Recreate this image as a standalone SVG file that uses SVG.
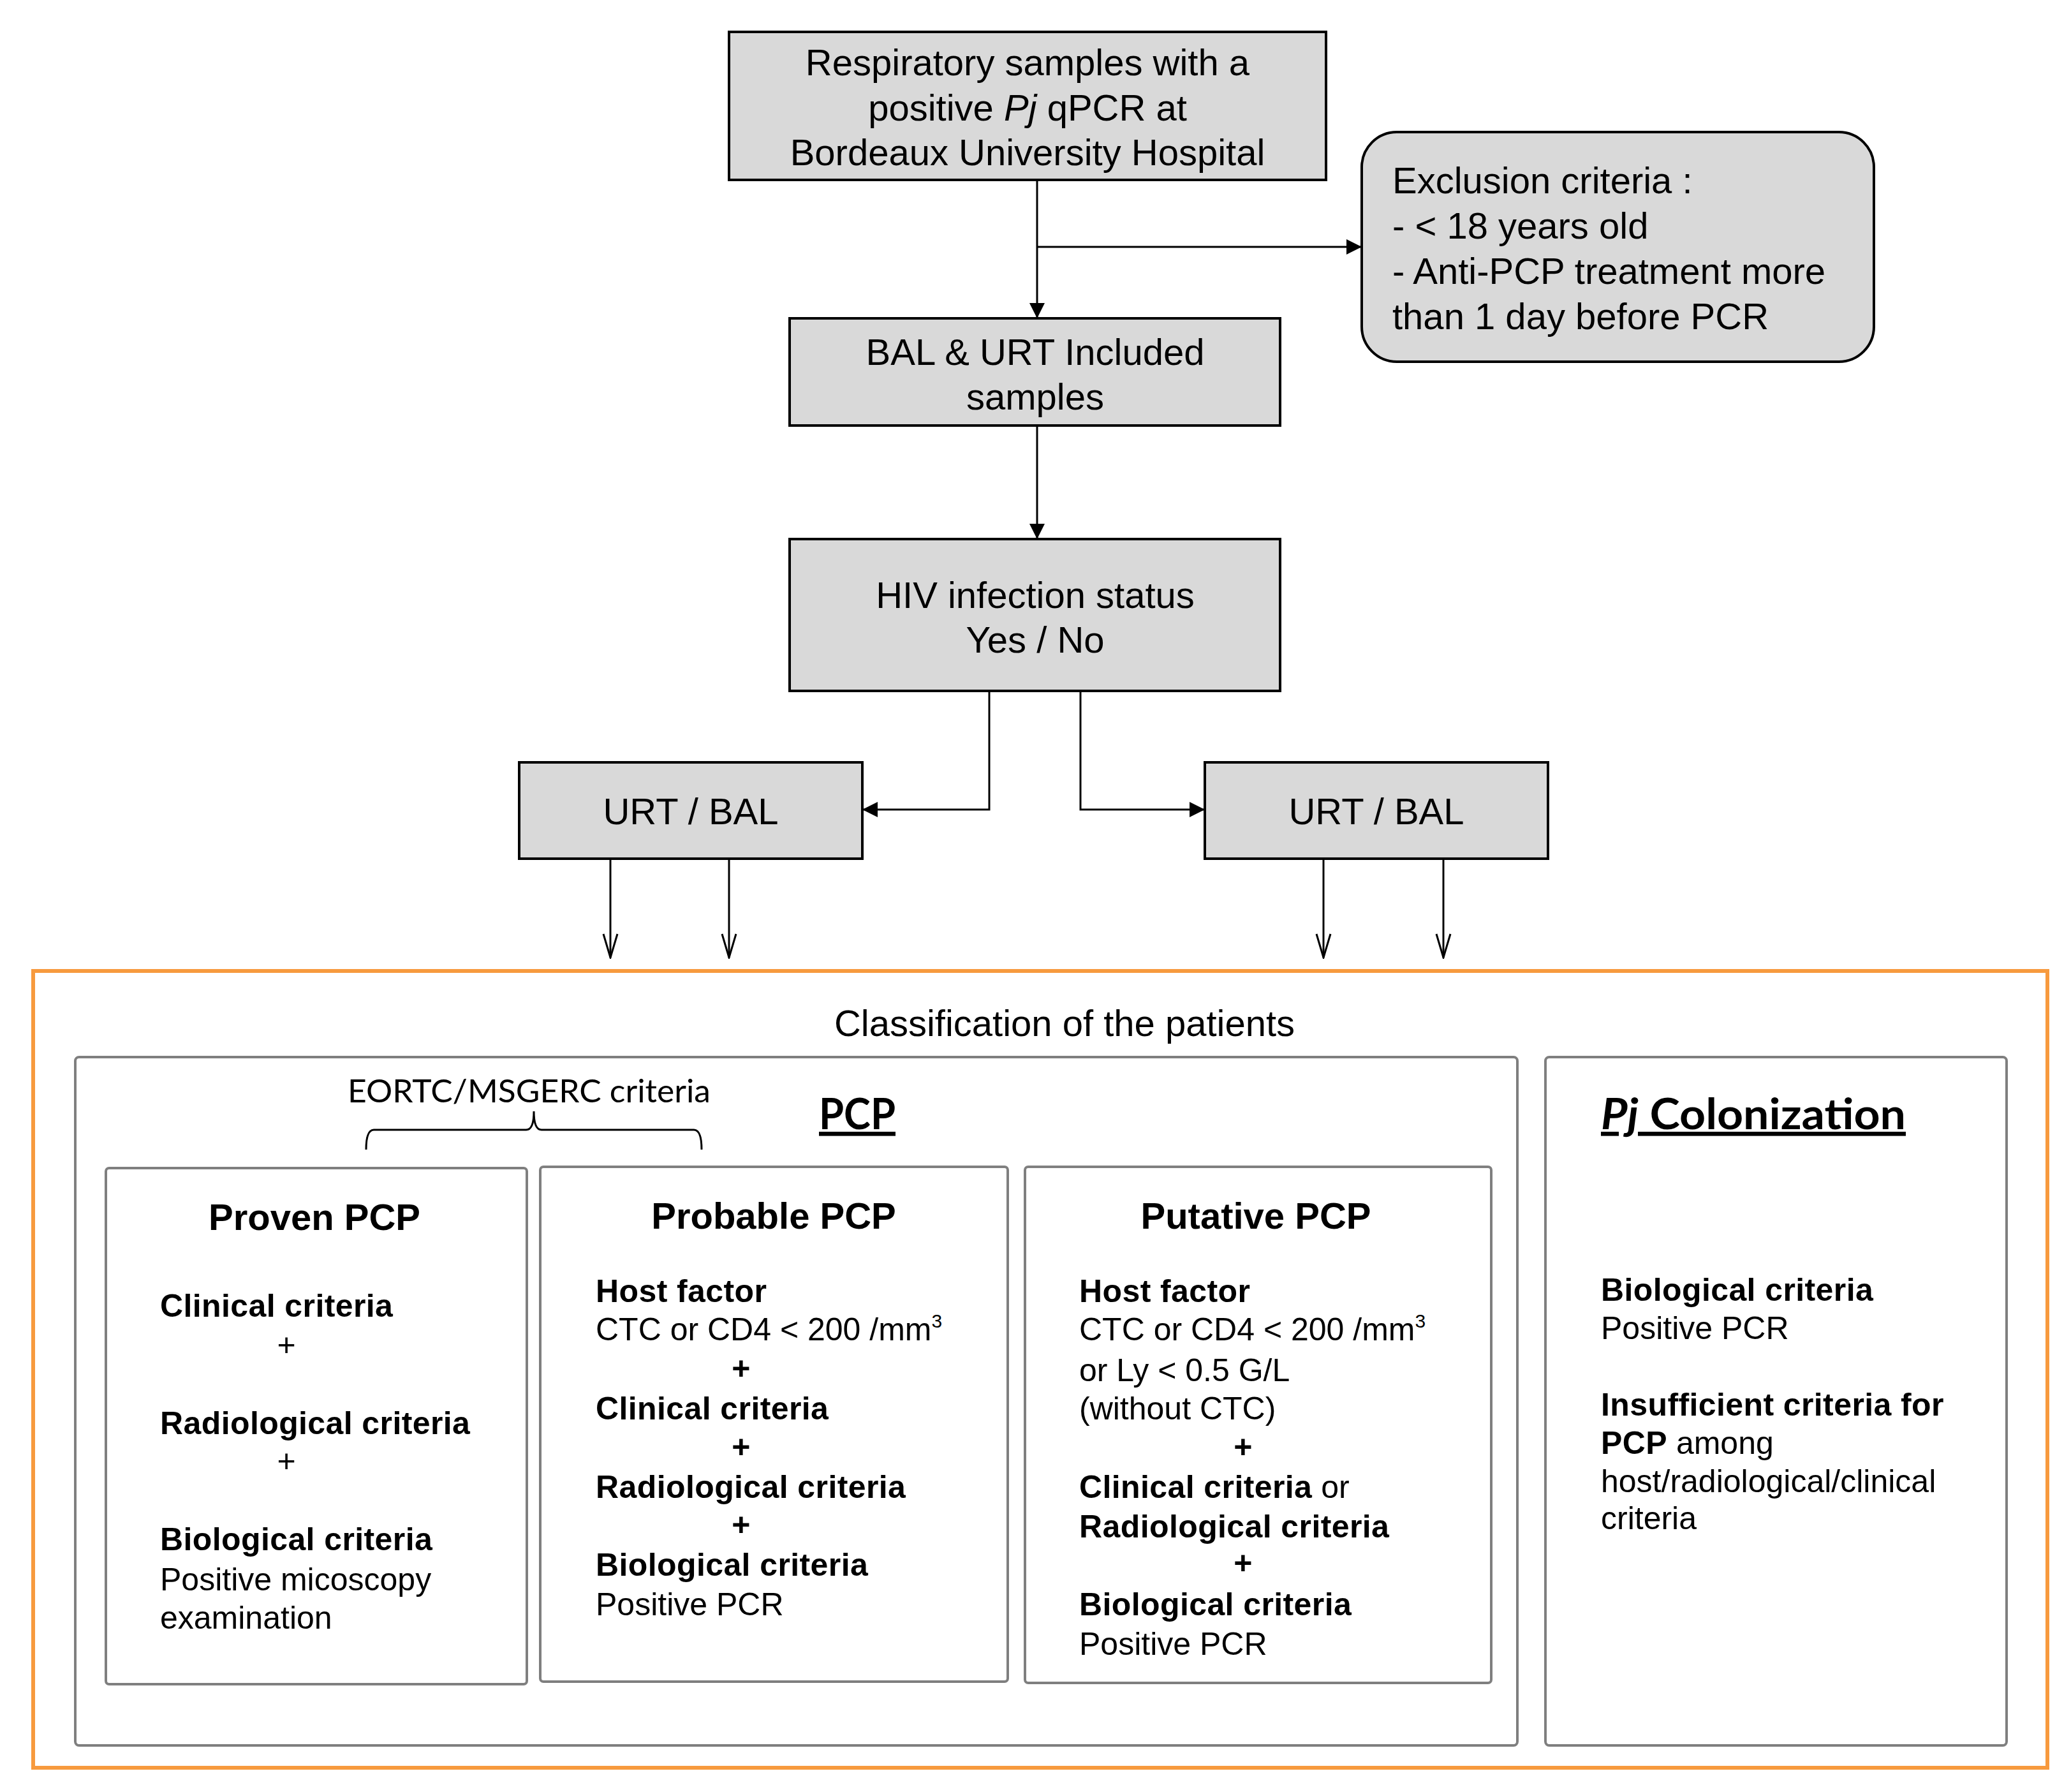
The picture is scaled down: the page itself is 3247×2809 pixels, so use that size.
<svg xmlns="http://www.w3.org/2000/svg" width="3247" height="2809" viewBox="0 0 3247 2809">
<defs>
<style>
.box{fill:#d9d9d9;stroke:#000;stroke-width:4}
.inner{fill:#fff;stroke:#7f7f7f;stroke-width:4}
.t{font-family:"Liberation Sans",Arial,sans-serif;font-size:58px;fill:#000}
.c{text-anchor:middle}
.b{font-family:"Liberation Sans",Arial,sans-serif;font-size:50px;fill:#000}
.bold{font-weight:bold;letter-spacing:0.4px}
.ttl{font-family:"Liberation Sans",Arial,sans-serif;font-size:58px;font-weight:bold;text-anchor:middle;fill:#000}
.cal{font-family:Lato,"Open Sans",sans-serif;fill:#000}
.conn{fill:none;stroke:#000;stroke-width:3}
</style>
<marker id="arr" viewBox="0 0 20 20" refX="20" refY="10" markerWidth="24" markerHeight="24" markerUnits="userSpaceOnUse" orient="auto">
<path d="M0,0 L20,10 L0,20 z" fill="#000"/>
</marker>
<marker id="open" viewBox="0 0 40 26" refX="38" refY="13" markerWidth="40" markerHeight="26" markerUnits="userSpaceOnUse" orient="auto">
<path d="M1,2 L38,13 L1,24" fill="none" stroke="#000" stroke-width="3"/>
</marker>
</defs>
<rect width="3247" height="2809" fill="#fff"/>

<g id="connectors">
<line class="conn" x1="1626" y1="282" x2="1626" y2="499" marker-end="url(#arr)"/>
<line class="conn" x1="1626" y1="387" x2="2135" y2="387" marker-end="url(#arr)"/>
<line class="conn" x1="1626" y1="667" x2="1626" y2="845" marker-end="url(#arr)"/>
<path class="conn" d="M1551,1083 V1269 H1352" marker-end="url(#arr)"/>
<path class="conn" d="M1694,1083 V1269 H1889" marker-end="url(#arr)"/>
<line class="conn" x1="957" y1="1346" x2="957" y2="1501" marker-end="url(#open)"/>
<line class="conn" x1="1143" y1="1346" x2="1143" y2="1501" marker-end="url(#open)"/>
<line class="conn" x1="2075" y1="1346" x2="2075" y2="1501" marker-end="url(#open)"/>
<line class="conn" x1="2263" y1="1346" x2="2263" y2="1501" marker-end="url(#open)"/>
</g>

<g id="n-start">
<rect class="box" x="1143" y="50" width="936" height="232"/>
<text class="t c" x="1611" y="118">Respiratory samples with a</text>
<text class="t c" x="1611" y="189">positive <tspan font-style="italic">Pj</tspan> qPCR at</text>
<text class="t c" x="1611" y="259">Bordeaux  University Hospital</text>
</g>

<g id="n-exclusion">
<rect class="box" x="2135" y="207" width="803" height="360" rx="55" ry="55"/>
<text class="t" x="2183" y="303">Exclusion criteria :</text>
<text class="t" x="2183" y="374">- &lt; 18 years old</text>
<text class="t" x="2183" y="445">- Anti-PCP treatment more</text>
<text class="t" x="2183" y="516">than 1 day before PCR</text>
</g>

<g id="n-included">
<rect class="box" x="1238" y="499" width="769" height="168"/>
<text class="t c" x="1623" y="572">BAL &amp; URT Included</text>
<text class="t c" x="1623" y="642">samples</text>
</g>

<g id="n-hiv">
<rect class="box" x="1238" y="845" width="769" height="238"/>
<text class="t c" x="1623" y="953">HIV  infection status</text>
<text class="t c" x="1623" y="1023">Yes / No</text>
</g>

<g id="n-urt-left">
<rect class="box" x="814" y="1195" width="538" height="151"/>
<text class="t c" x="1083" y="1292">URT / BAL</text>
</g>

<g id="n-urt-right">
<rect class="box" x="1889" y="1195" width="538" height="151"/>
<text class="t c" x="2158" y="1292">URT / BAL</text>
</g>

<g id="n-classification">
<rect x="52" y="1522" width="3158" height="1249" fill="none" stroke="#f79a3e" stroke-width="6"/>
<text class="t c" x="1669" y="1624">Classification of the patients</text>
</g>

<g id="n-pcp">
<rect class="inner" x="118" y="1657" width="2261" height="1079" rx="6"/>
<text class="cal" x="545" y="1728" font-size="50" textLength="569" lengthAdjust="spacingAndGlyphs">EORTC/MSGERC criteria</text>
<path class="conn" d="M574,1802 Q574,1771 586,1771 L825,1771 Q837,1771 837,1742 Q837,1771 849,1771 L1088,1771 Q1100,1771 1100,1802"/>
<text class="cal" x="1284" y="1770" font-size="66" font-weight="bold" text-decoration="underline" textLength="120" lengthAdjust="spacingAndGlyphs">PCP</text>
</g>

<g id="n-proven">
<rect class="inner" x="166" y="1831" width="660" height="809" rx="5"/>
<text class="ttl" x="493" y="1928">Proven PCP</text>
<text class="b bold" x="251" y="2064">Clinical criteria</text>
<text class="b c" x="449" y="2125">+</text>
<text class="b bold" x="251" y="2248">Radiological criteria</text>
<text class="b c" x="449" y="2307">+</text>
<text class="b bold" x="251" y="2430">Biological criteria</text>
<text class="b" x="251" y="2493">Positive micoscopy</text>
<text class="b" x="251" y="2553">examination</text>
</g>

<g id="n-probable">
<rect class="inner" x="847" y="1829" width="733" height="807" rx="5"/>
<text class="ttl" x="1213" y="1926">Probable PCP</text>
<text class="b bold" x="934" y="2041">Host factor</text>
<text class="b" x="934" y="2101">CTC or CD4 &lt; 200 /mm<tspan font-size="30" dy="-20">3</tspan></text>
<text class="b bold c" x="1162" y="2162">+</text>
<text class="b bold" x="934" y="2225">Clinical criteria</text>
<text class="b bold c" x="1162" y="2285">+</text>
<text class="b bold" x="934" y="2348">Radiological criteria</text>
<text class="b bold c" x="1162" y="2407">+</text>
<text class="b bold" x="934" y="2470">Biological criteria</text>
<text class="b" x="934" y="2532">Positive PCR</text>
</g>

<g id="n-putative">
<rect class="inner" x="1607" y="1829" width="731" height="809" rx="5"/>
<text class="ttl" x="1969" y="1926">Putative PCP</text>
<text class="b bold" x="1692" y="2041">Host factor</text>
<text class="b" x="1692" y="2101">CTC or CD4 &lt; 200 /mm<tspan font-size="30" dy="-20">3</tspan></text>
<text class="b" x="1692" y="2165">or Ly &lt; 0.5 G/L</text>
<text class="b" x="1692" y="2225">(without CTC)</text>
<text class="b bold c" x="1949" y="2285">+</text>
<text class="b" x="1692" y="2348"><tspan font-weight="bold" letter-spacing="0.4">Clinical criteria</tspan> or</text>
<text class="b bold" x="1692" y="2410">Radiological criteria</text>
<text class="b bold c" x="1949" y="2467">+</text>
<text class="b bold" x="1692" y="2532">Biological criteria</text>
<text class="b" x="1692" y="2594">Positive PCR</text>
</g>

<g id="n-colonization">
<rect class="inner" x="2423" y="1657" width="723" height="1079" rx="6"/>
<text class="cal" x="2510" y="1770" font-size="66" font-weight="bold" text-decoration="underline" textLength="478" lengthAdjust="spacingAndGlyphs"><tspan font-style="italic">Pj</tspan> Colonization</text>
<text class="b bold" x="2510" y="2039">Biological criteria</text>
<text class="b" x="2510" y="2099">Positive PCR</text>
<text class="b bold" x="2510" y="2219">Insufficient criteria for</text>
<text class="b" x="2510" y="2279"><tspan font-weight="bold" letter-spacing="0.4">PCP</tspan> among</text>
<text class="b" x="2510" y="2339">host/radiological/clinical</text>
<text class="b" x="2510" y="2397">criteria</text>
</g>
</svg>
